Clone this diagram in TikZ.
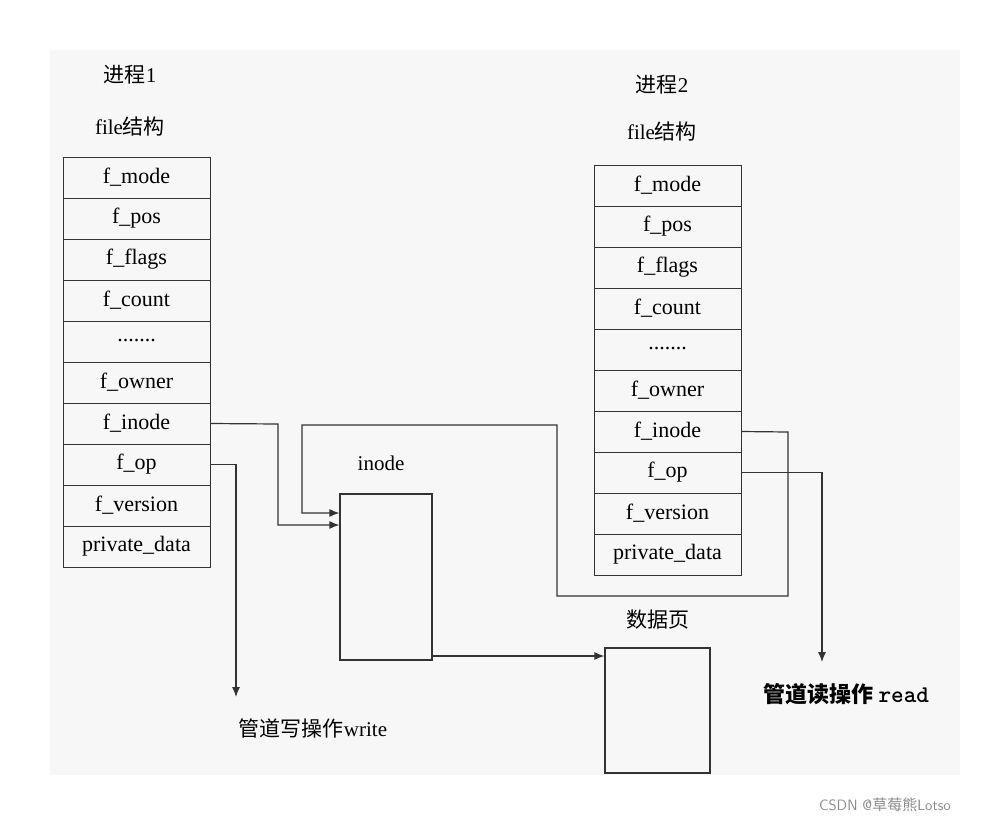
\documentclass[tikz,border=0pt]{standalone}
\usepackage{fontspec}
\setmainfont{Liberation Serif}
\newfontfamily\cjk{Noto Sans CJK SC}
\usetikzlibrary{arrows.meta}
\begin{document}
\begin{tikzpicture}[x=1pt,y=-1pt,
  cell/.style={draw=black!80,line width=1pt,minimum width=147pt,minimum height=41pt,inner sep=0pt,font=\fontsize{22}{24}\selectfont},
  lbl/.style={font=\fontsize{21}{24}\selectfont,inner sep=1pt},
  conn/.style={draw=black!80,line width=1.2pt},
  arr/.style={conn,-{Latex[length=10pt,width=8pt]}},
  box/.style={draw=black!80,line width=1.2pt,inner sep=0pt}]
\useasboundingbox (0,0) rectangle (986,823);
\fill[black!3] (50,50) rectangle (960,775);
\foreach \t [count=\i] in {f\_mode,f\_pos,f\_flags,f\_count,{\raisebox{0.3ex}{.......}},f\_owner,f\_inode,f\_op,f\_version,private\_data}{
  \node[cell] (a\i) at (136.5,{157+41*(\i-1)+20.5}) {\t};
  \node[cell] (b\i) at (667.5,{165+41*(\i-1)+20.5}) {\t};
}
\node[lbl] (p1) at (130,75) {{\cjk 进程}1};
\node[lbl] (s1) at (130,127) {file{\cjk 结构}};
\node[lbl] (p2) at (662,85) {{\cjk 进程}2};
\node[lbl] (s2) at (662,132) {file{\cjk 结构}};
\node[box,minimum width=92pt,minimum height=166pt] (ino) at (386,577) {};
\node[lbl] (inol) at (381,463) {inode};
\node[box,minimum width=105pt,minimum height=125pt] (page) at (657.5,710.5) {};
\node[lbl] (pagel) at (658,620) {\cjk 数据页};
\node[lbl] (w) at (313,728) {{\cjk 管道写操作}write};
\node[lbl,font=\fontsize{22}{24}\selectfont] (r) at (846,694) {{\cjk\bfseries 管道读操作} \texttt{\bfseries\fontsize{24}{24}\selectfont read}};
\node[font=\sffamily\fontsize{15}{17}\selectfont,text=black!45] (wm) at (885,805) {CSDN @{\cjk 草莓熊}Lotso};
\coordinate (wend) at (236,697);
\coordinate (rend) at (822,662);
\draw[arr] (a7.east) -- (278,424) |- (ino.west |- 0,525);
\draw[arr] (b7.east) -- (788,432) |- (557,596) |- (302,425) |- (ino.west |- 0,513);
\draw[arr] (a8.east) -| (wend);
\draw[arr] (b8.east) -| (rend);
\draw[arr] (ino.south east |- 0,656) -- (page.west |- 0,656);
\end{tikzpicture}
\end{document}
